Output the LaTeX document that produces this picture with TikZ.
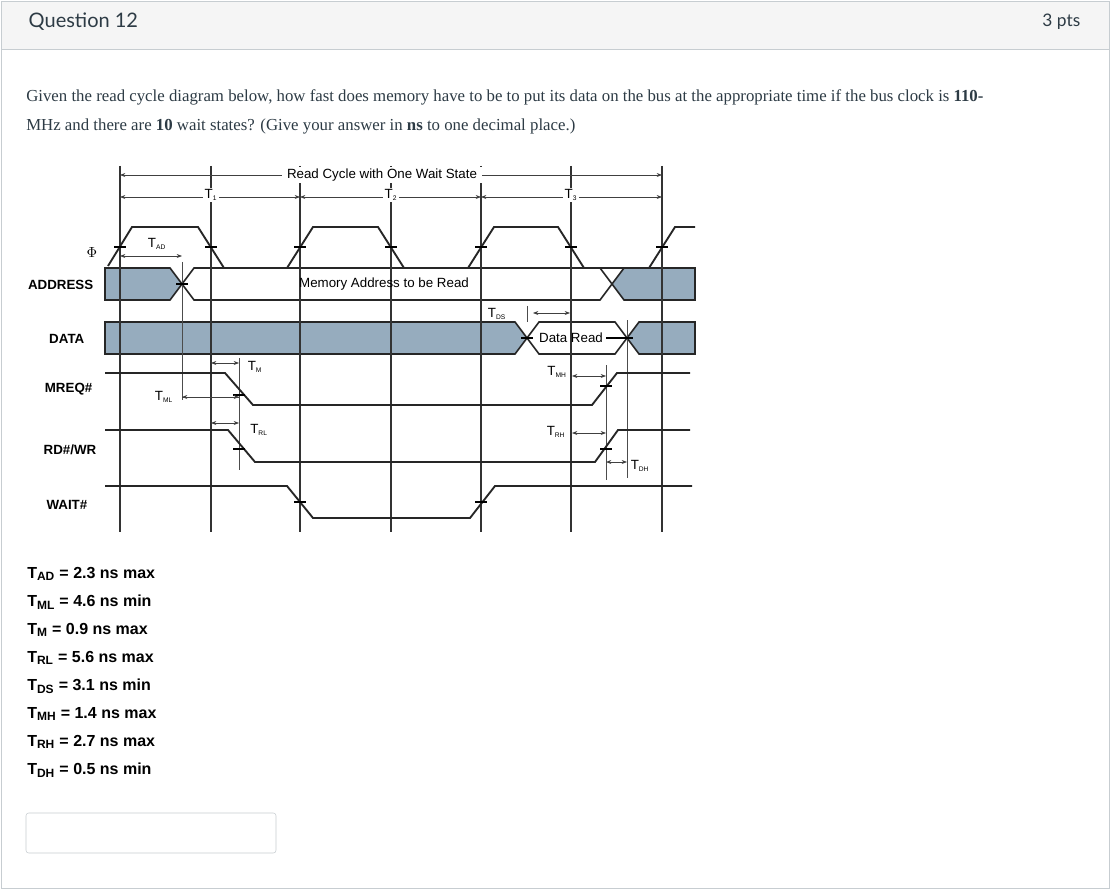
\documentclass[tikz,border=0pt]{standalone}
\usepackage{fontspec}
\setmainfont{Liberation Serif}
\setsansfont{Liberation Sans}
\newfontfamily\lato{Lato}
\usetikzlibrary{arrows.meta}
\definecolor{busgray}{RGB}{150,172,190}
\definecolor{hdr}{RGB}{245,245,245}
\definecolor{bord}{RGB}{199,205,209}
\definecolor{txt}{RGB}{45,59,69}
\tikzset{
  sig/.style={line width=1.4pt,black!85},
  grid/.style={line width=1.1pt,black!80},
  thin/.style={line width=0.4pt,black!70},
  dim/.style={line width=0.5pt,black!75,{Stealth[length=4pt,width=3pt]}-{Stealth[length=4pt,width=3pt]}},
  dimr/.style={line width=0.5pt,black!75,-{Stealth[length=4pt,width=3pt]}},
  dl/.style={font=\sffamily\fontsize{10}{12}\selectfont,inner sep=1pt},
  sl/.style={font=\sffamily\bfseries\fontsize{10}{12}\selectfont,anchor=east},
  bus/.style={draw=black!85,line width=1.2pt},
  tline/.style={font=\sffamily\bfseries\fontsize{12}{14}\selectfont,anchor=west,inner sep=0pt},
}
\newcommand{\Tsub}[2]{T\textsubscript{\fontsize{5}{6}\selectfont #2}}
\begin{document}
\begin{tikzpicture}[x=0.75pt,y=-0.75pt]
\useasboundingbox (0,0) rectangle (1110,891);
\fill[white] (0,0) rectangle (1110,891);
\filldraw[fill=hdr,draw=bord] (1,1) rectangle (1109,49);
\draw[bord] (1,49) -- (1,888) -- (1109,888) -- (1109,49);
\node[anchor=west,font=\lato\fontsize{15}{18}\selectfont,text=txt] (q) at (24,22) {Question 12};
\node[anchor=east,font=\lato\fontsize{13}{16}\selectfont,text=txt] (p) at (1085,22) {3 pts};
\node[anchor=west,font=\fontsize{12.6}{15}\selectfont,text=txt,inner sep=0pt] (l1) at (26,97) {Given the read cycle diagram below, how fast does memory have to be to put its data on the bus at the appropriate time if the bus clock is \textbf{110-}};
\node[anchor=west,font=\fontsize{12.6}{15}\selectfont,text=txt,inner sep=0pt] (l2) at (26,126) {MHz and there are \textbf{10} wait states? (Give your answer in \textbf{ns} to one decimal place.)};

% buses
\filldraw[bus,fill=busgray] (105,268)--(170,268)--(182,284)--(170,300)--(105,300)--cycle;
\filldraw[bus,fill=white] (182,284)--(194,268)--(600,268)--(612,284)--(600,300)--(194,300)--cycle;
\filldraw[bus,fill=busgray] (612,284)--(624,268)--(695,268)--(695,300)--(624,300)--cycle;
\filldraw[bus,fill=busgray] (105,322)--(515,322)--(527,338)--(515,354)--(105,354)--cycle;
\filldraw[bus,fill=white] (527,338)--(539,322)--(615,322)--(627,338)--(615,354)--(539,354)--cycle;
\filldraw[bus,fill=busgray] (627,338)--(639,322)--(695,322)--(695,354)--(639,354)--cycle;

% grid lines
\foreach \x in {120,211,300,391,481,571,662} \draw[grid] (\x,166)--(\x,532);
\draw[thin] (182,262)--(182,400);
\draw[thin] (239,358)--(239,470);
\draw[thin] (527,306)--(527,322);
\draw[thin] (606,365)--(606,480);
\draw[thin] (627,320)--(627,478);

\node[dl] (addr) at (384,284) {Memory Address to be Read};
\node[dl] (dr) at (571,338) {Data Read};

% clock
\draw[sig] (108,266)--(132,227)--(198,227)--(224,268)--(287,268)--(313,227)--(378,227)--(404,268)--(468,268)--(494,227)--(558,227)--(584,268)--(649,268)--(675,227)--(695,227);
\foreach \x in {120,300,481,662,211,391,571} \draw[line width=0.8pt] (\x-6,247)--(\x+6,247);
\draw[line width=0.8pt] (176,284)--(188,284);
\draw[line width=0.8pt] (521,338)--(533,338);
\draw[line width=0.8pt] (606,338)--(633,338);

% MREQ
\draw[sig] (105,373)--(225,373)--(253,405)--(592,405)--(617,373)--(690,373);
\draw[line width=0.8pt] (233,395)--(245,395) (600,386)--(612,386);
% RD
\draw[sig] (105,430)--(228,430)--(255,462)--(595,462)--(618,430)--(690,430);
\draw[line width=0.8pt] (233,449)--(245,449) (600,449)--(612,449);
% WAIT
\draw[sig] (105,486)--(287,486)--(313,518)--(470,518)--(495,486)--(692,486);
\draw[line width=0.8pt] (294,502)--(306,502) (475,502)--(487,502);

% dimensions
\draw[dim] (120,175)--(662,175);
\node[dl,fill=white,inner xsep=4pt] (rc) at (382,175) {Read Cycle with One Wait State};
\draw[dim] (120,197)--(300,197);
\draw[dim] (300,197)--(481,197);
\draw[dim] (481,197)--(662,197);
\node[dl,fill=white] (t1) at (211,195) {\Tsub{T}{1}};
\node[dl,fill=white] (t2) at (391,195) {\Tsub{T}{2}};
\node[dl,fill=white] (t3) at (571,195) {\Tsub{T}{3}};
\draw[dim] (120,256)--(182,256);
\node[dl] (tad) at (157,244) {\Tsub{T}{AD}};
\draw[dim] (533,313)--(570,313);
\node[dl] (tds) at (497,314) {\Tsub{T}{DS}};
\draw[dim] (211,363)--(239,363);
\node[dl] (tm) at (255,367) {\Tsub{T}{M}};
\draw[dimr] (182,397)--(239,397);
\draw[dimr] (239,397)--(182,397);
\node[dl] (tml) at (164,397) {\Tsub{T}{ML}};
\draw[dim] (572,376)--(606,376);
\node[dl] (tmh) at (557,372) {\Tsub{T}{MH}};
\draw[dim] (211,423)--(239,423);
\node[dl] (trl) at (259,430) {\Tsub{T}{RL}};
\draw[dim] (572,433)--(606,433);
\node[dl] (trh) at (556,432) {\Tsub{T}{RH}};
\draw[dim] (606,462)--(627,462);
\node[dl] (tdh) at (640,466) {\Tsub{T}{DH}};

% signal labels
\node[sl,font=\fontsize{11}{13}\selectfont] (phi) at (102,253) {$\Phi$};
\node[sl] (la) at (98,285) {ADDRESS};
\node[sl] (ld) at (89,339) {DATA};
\node[sl] (lm) at (97,389) {MREQ\#};
\node[sl] (lr) at (101,450) {RD\#/WR};
\node[sl] (lw) at (92,505) {WAIT\#};

% value list
\foreach \n/\s/\v [count=\i from 0] in {AD/2.3 ns max,ML/4.6 ns min,M/0.9 ns max,RL/5.6 ns max,DS/3.1 ns min,MH/1.4 ns max,RH/2.7 ns max,DH/0.5 ns min}
  \node[tline] (v\i) at (27,574+28*\i) {T\textsubscript{\fontsize{9}{10}\selectfont\n} = \s};

\draw[bord,rounded corners=2pt] (26,813) rectangle (276,853);
\end{tikzpicture}
\end{document}
